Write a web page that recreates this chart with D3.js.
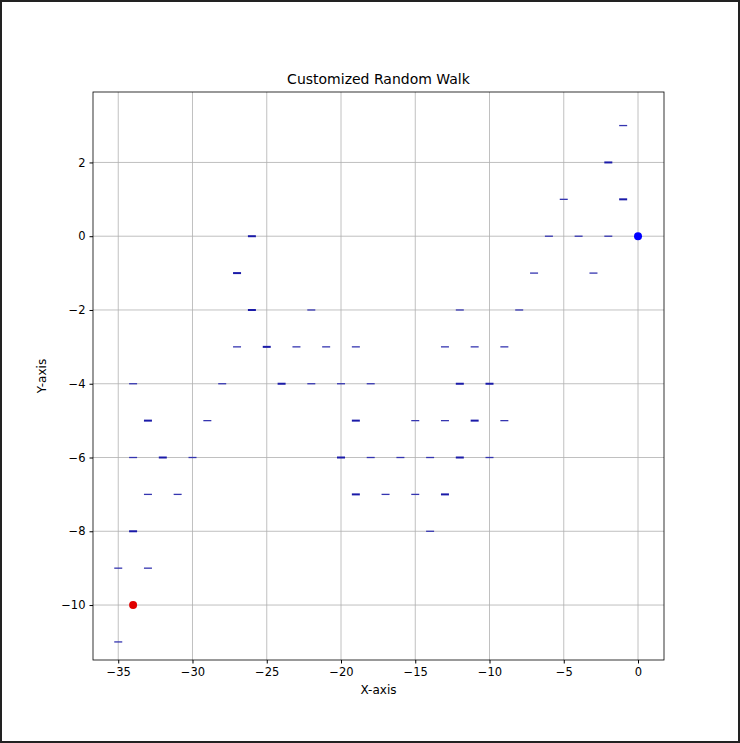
<!DOCTYPE html><html><head><meta charset="utf-8">
<script src="https://cdn.jsdelivr.net/npm/d3@7"></script>
<style>body{margin:0;background:#fff}svg{font-family:"DejaVu Sans",sans-serif}</style></head><body>
<svg id="c" width="740" height="743"></svg>
<script>
const walkX=[-1,-2,-5,-1,-6,-4,-2,-7,-3,-8,-12,-13,-11,-9,-12,-10,-15,-13,-11,-9,-16,-14,-12,-10,-17,-15,-13,-14,-26,-27,-26,-22,-27,-25,-23,-21,-19,-28,-24,-22,-20,-18,-29,-19,-30,-32,-20,-18,-31,-19,-34,-33,-34,-33,-34,-35,-33,-35];
const walkY=[3,2,1,1,0,0,0,-1,-1,-2,-2,-3,-3,-3,-4,-4,-5,-5,-5,-5,-6,-6,-6,-6,-7,-7,-7,-8,0,-1,-2,-2,-3,-3,-3,-3,-3,-4,-4,-4,-4,-4,-5,-5,-6,-6,-6,-6,-7,-7,-4,-5,-6,-7,-8,-9,-9,-11];
const visits=[1,2,1,2,1,1,1,1,1,1,1,1,1,1,2,2,1,1,2,1,1,1,2,1,1,1,2,1,2,2,2,1,1,2,1,1,1,1,2,1,1,1,1,2,1,2,2,1,1,2,1,2,1,1,2,1,1,1];
const start=[0,0], end=[-34,-10];
const xTicks=[-35,-30,-25,-20,-15,-10,-5,0], yTicks=[-10,-8,-6,-4,-2,0,2];
const svg=d3.select("#c");
svg.append("rect").attr("x",1).attr("y",1).attr("width",738).attr("height",741).attr("fill","#fff").attr("stroke","#222").attr("stroke-width",2);
const L=93,R=664,T=92,B=660;
const x=d3.scaleLinear().domain([-36.7,1.75]).range([L,R]);
const y=d3.scaleLinear().domain([-11.49,3.91]).range([B,T]);
const g=svg.append("g");
g.selectAll(".gx").data(xTicks).join("line").attr("x1",d=>x(d)).attr("x2",d=>x(d)).attr("y1",T).attr("y2",B).attr("stroke","#b0b0b0").attr("stroke-width",0.8);
g.selectAll(".gy").data(yTicks).join("line").attr("y1",d=>y(d)).attr("y2",d=>y(d)).attr("x1",L).attr("x2",R).attr("stroke","#b0b0b0").attr("stroke-width",0.8);
g.selectAll(".m").data(walkX.map((v,i)=>[v,walkY[i],visits[i]])).join("line")
 .attr("x1",d=>x(d[0])-4).attr("x2",d=>x(d[0])+4).attr("y1",d=>y(d[1])).attr("y2",d=>y(d[1]))
 .attr("stroke",d=>d[2]>1?"#1a1aa8":"#3535b0").attr("stroke-width",d=>d[2]>1?2:1.3);
svg.append("circle").attr("cx",x(start[0])).attr("cy",y(start[1])).attr("r",4).attr("fill","#0000ff");
svg.append("circle").attr("cx",x(end[0])).attr("cy",y(end[1])).attr("r",4).attr("fill","#e00000");
svg.append("rect").attr("x",L).attr("y",T).attr("width",R-L).attr("height",B-T).attr("fill","none").attr("stroke","#000").attr("stroke-width",0.8);
const ax=svg.append("g").attr("transform",`translate(0,${B})`).call(d3.axisBottom(x).tickValues(xTicks).tickFormat(d=>d<0?"−"+(-d):d).tickSizeOuter(0).tickSize(3.5).tickPadding(4));
const ay=svg.append("g").attr("transform",`translate(${L},0)`).call(d3.axisLeft(y).tickValues(yTicks).tickFormat(d=>d<0?"−"+(-d):d).tickSizeOuter(0).tickSize(3.5).tickPadding(4));
[ax,ay].forEach(a=>{a.select(".domain").remove();a.selectAll("text").attr("font-size",11.5).attr("fill","#000").attr("font-family","DejaVu Sans");});
svg.append("text").attr("x",(L+R)/2).attr("y",84).attr("text-anchor","middle").attr("font-size",14).text("Customized Random Walk");
svg.append("text").attr("x",(L+R)/2).attr("y",694).attr("text-anchor","middle").attr("font-size",12).text("X-axis");
svg.append("text").attr("transform",`translate(46,${(T+B)/2}) rotate(-90)`).attr("text-anchor","middle").attr("font-size",12).text("Y-axis");
</script></body></html>
